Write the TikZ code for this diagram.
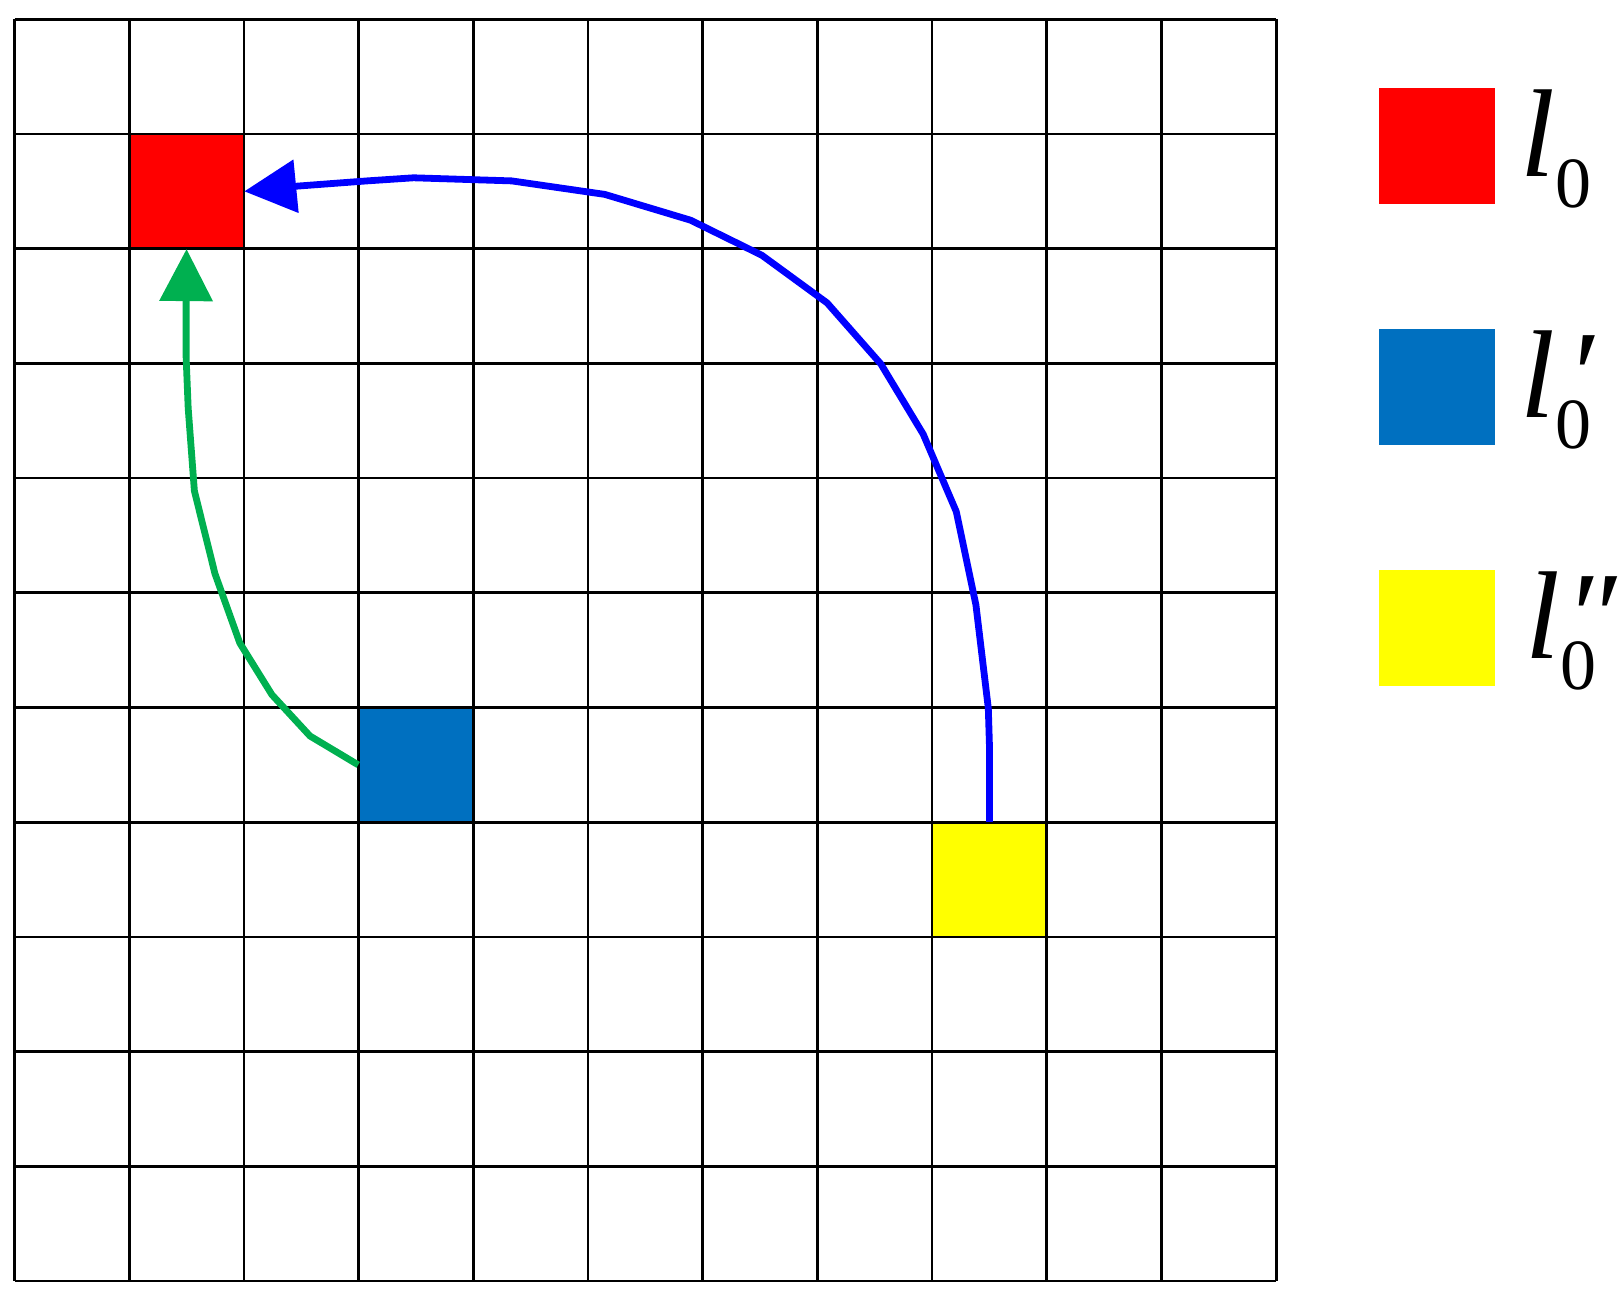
\documentclass[tikz,border=0pt]{standalone}
\usepackage{fontspec}
\setmainfont{Liberation Serif}
\usetikzlibrary{arrows.meta}
\definecolor{cellred}{HTML}{FF0000}
\definecolor{cellblue}{HTML}{0070C0}
\definecolor{cellyellow}{HTML}{FFFF00}
\definecolor{arrblue}{HTML}{0000FF}
\definecolor{arrgreen}{HTML}{00B050}
\newcommand\subzero{\raisebox{-15.5pt}{\fontsize{36}{36}\selectfont 0}}
\tikzset{
  cellbox/.style={draw=none, inner sep=0, minimum size=57.35pt},
  legbox/.style={draw=none, inner sep=0, minimum size=58pt},
  gridline/.style={line width=1.35pt, black},
  movearrow/.style={line width=3.4pt, line join=round, -{Triangle[length=26pt,width=26pt]}},
  legtext/.style={anchor=base west, inner sep=0, font=\fontsize{62.5}{70}\selectfont},
}
\begin{document}
\begin{tikzpicture}[x=0.5pt, y=-0.5pt]
\useasboundingbox (0,0) rectangle (1621,1299);
% coloured cells
\node[cellbox, fill=cellred] (red) at (186.55,191.35) {};
\node[cellbox, fill=cellblue] (blue) at (415.95,764.85) {};
\node[cellbox, fill=cellyellow] (yellow) at (989.45,879.55) {};
% grid
\foreach \i in {0,...,11} {
  \draw[gridline] ({14.5+114.7*\i},19.3) -- ({14.5+114.7*\i},1281);
  \draw[gridline] (14.5,{19.3+114.7*\i}) -- (1276.2,{19.3+114.7*\i});
}
% arrows
\draw[movearrow, arrblue] (yellow.north) -- (989.4,744.3) -- (988.3,708.2) -- (975.9,604.8)
  -- (956.3,511.7) -- (923.2,434.2) -- (880.8,363.9) -- (827.1,302.9) -- (761.9,255.3)
  -- (690.6,220.2) -- (604.8,194.4) -- (511.7,180.9) -- (413.5,177.8) -- (367,180.9)
  -- (297.7,186.1) -- (red.east);
\draw[movearrow, arrgreen] (blue.west) -- (310,736) -- (271.9,694.7) -- (239.8,643)
  -- (215,573.8) -- (194.4,491) -- (188.2,408.4) -- (186.1,356.7) -- (186.1,299.8)
  -- (red.south);
% legend
\node[legbox, fill=cellred] (lgred) at (1437,146) {};
\node[legbox, fill=cellblue] (lgblue) at (1437,387) {};
\node[legbox, fill=cellyellow] (lgyellow) at (1437,628) {};
\node[legtext] (txred) at (1520,177) {\textit{l}\subzero};
\node[legtext] (txblue) at (1520,417) {\textit{l}\rlap{\subzero}\kern5.5pt\textit{′}};
\node[legtext] (txyellow) at (1525,658) {\textit{l}\rlap{\subzero}\kern2pt\textit{″}};
\end{tikzpicture}
\end{document}
